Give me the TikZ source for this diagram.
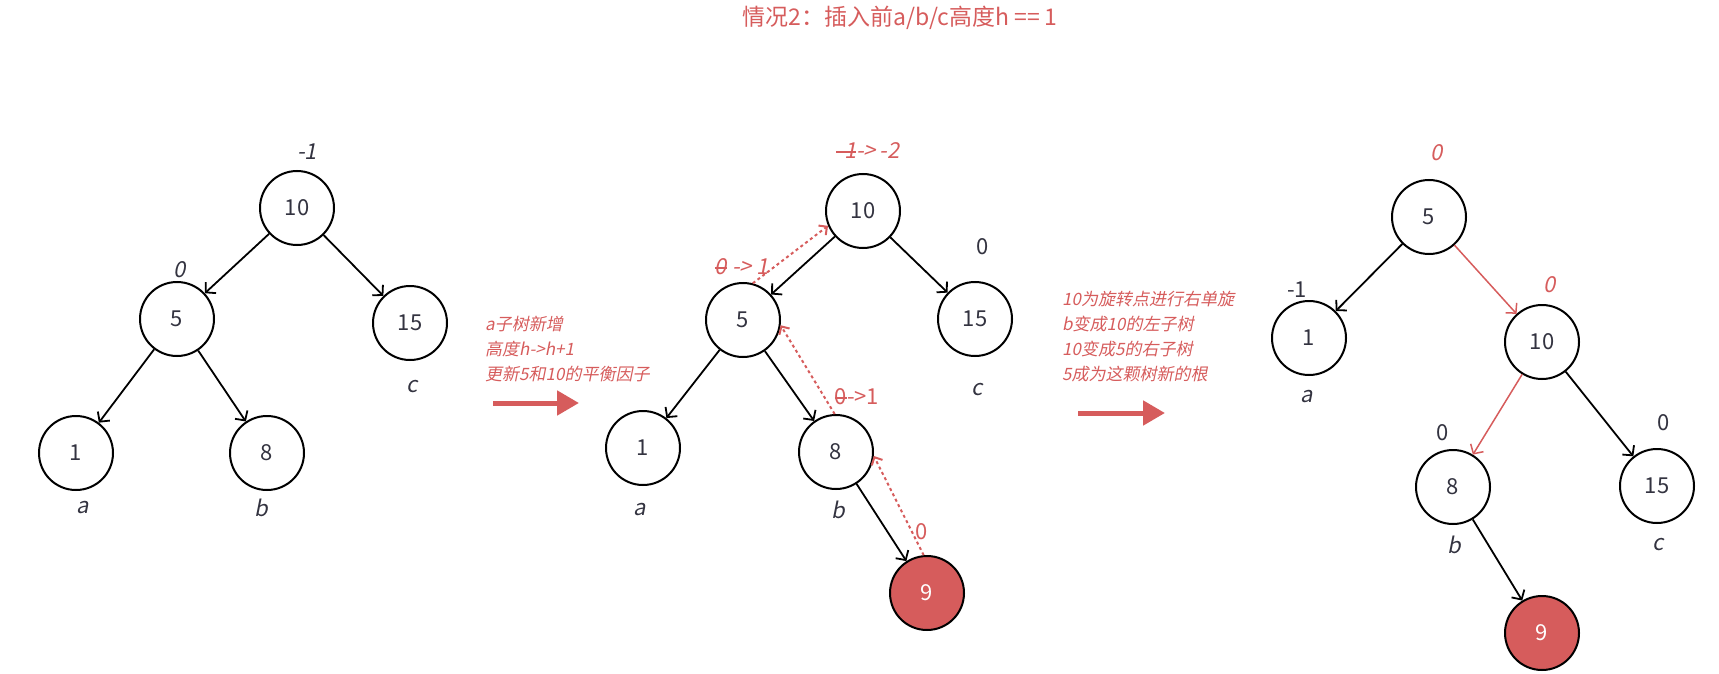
\documentclass[tikz,border=0pt]{standalone}
\usepackage{fontspec}
\setmainfont{Noto Sans CJK SC}
\newfontfamily\itf{Noto Sans CJK SC}[FakeSlant=0.2]
\usetikzlibrary{arrows.meta}
\definecolor{myred}{RGB}{214,92,92}
\definecolor{txt}{RGB}{51,51,64}
\newcommand\stk[1]{\setbox0=\hbox{#1}\rlap{\copy0}\rule[0.28em]{\wd0}{0.07em}}
\begin{document}
\begin{tikzpicture}[x=1pt,y=-1pt,
 tn/.style={circle,draw=black,line width=2pt,minimum size=74pt,inner sep=0pt,text=txt,font=\fontsize{22}{22}\selectfont},
 hot/.style={tn,fill=myred,text=white},
 bf/.style={text=txt,font=\fontsize{22}{22}\selectfont,inner sep=0pt},
 bfi/.style={text=txt,font=\itf\fontsize{22}{22}\selectfont,inner sep=0pt},
 rbf/.style={text=myred,font=\fontsize{22}{22}\selectfont,inner sep=0pt},
 rbfi/.style={text=myred,font=\itf\fontsize{22}{22}\selectfont,inner sep=0pt},
 edge/.style={line width=1.8pt,-{Straight Barb[length=7pt,width=15pt]}},
 redge/.style={draw=myred,line width=1.5pt,-{Straight Barb[length=7pt,width=15pt]}},
 dotarr/.style={draw=myred,line width=2pt,dash pattern=on 3pt off 3pt,-{Straight Barb[length=6pt,width=12pt]}},
 bigarr/.style={draw=myred,line width=5pt,-{Triangle[length=22pt,width=24pt]}},
 note/.style={text=myred,font=\itf\fontsize{17}{25}\selectfont,align=left,anchor=west,inner sep=0pt}
]
\useasboundingbox (0,0) rectangle (1719,674);

% title
\node[text=myred,font=\fontsize{23}{23}\selectfont,inner sep=0pt] (title) at (900,18) {情况2：插入前a/b/c高度h == 1};

% ---------- left tree ----------
\node[tn] (L10) at (297,208) {10};
\node[tn] (L5) at (177,319) {5};
\node[tn] (L15) at (410,323) {15};
\node[tn] (L1) at (76,453) {1};
\node[tn] (L8) at (267,453) {8};
\draw[edge] (L10) -- (L5);
\draw[edge] (L10) -- (L15);
\draw[edge] (L5) -- (L1);
\draw[edge] (L5) -- (L8);
\node[bfi] (Lb10) at (307,152) {-1};
\node[bfi] (Lb5) at (180,270) {0};
\node[bfi] (La) at (83,508) {a};
\node[bfi] (Lb) at (261,508) {b};
\node[bfi] (Lc) at (412,387) {c};

% ---------- arrow 1 ----------
\node[note] (n1) at (485,349) {a子树新增\\高度h->h+1\\更新5和10的平衡因子};
\coordinate (a1s) at (493,403);
\coordinate (a1e) at (579,403);
\draw[bigarr] (a1s) -- (a1e);

% ---------- middle tree ----------
\node[tn] (M10) at (863,211) {10};
\node[tn] (M5) at (743,320) {5};
\node[tn] (M15) at (975,319) {15};
\node[tn] (M1) at (643,448) {1};
\node[tn] (M8) at (836,452) {8};
\node[hot] (M9) at (927,593) {9};
\draw[edge] (M10) -- (M5);
\draw[edge] (M10) -- (M15);
\draw[edge] (M5) -- (M1);
\draw[edge] (M5) -- (M8);
\draw[edge] (M8) -- (M9);
\draw[dotarr] (M5.75) -- (M10.203);
\draw[dotarr] (M8.92) -- (M5.-8);
\draw[dotarr] (M9.95) -- (M8.-6);
\node[rbfi] (Mb10) at (868,151) {\stk{-1}->\,-2};
\node[bf] (Mb15) at (983,247) {0};
\node[rbfi] (Mb5) at (742,267) {\stk{0} -> 1};
\node[rbf] (Mb8) at (857,397) {\stk{0}->1};
\node[rbf] (Mb9) at (922,532) {0};
\node[bfi] (Ma) at (640,510) {a};
\node[bfi] (Mb) at (838,510) {b};
\node[bfi] (Mc) at (977,390) {c};

% ---------- arrow 2 ----------
\node[note] (n2) at (1062,337) {10为旋转点进行右单旋\\b变成10的左子树\\10变成5的右子树\\5成为这颗树新的根};
\coordinate (a2s) at (1078,413);
\coordinate (a2e) at (1165,413);
\draw[bigarr] (a2s) -- (a2e);

% ---------- right tree ----------
\node[tn] (R5) at (1429,217) {5};
\node[tn] (R1) at (1309,338) {1};
\node[tn] (R10) at (1542,342) {10};
\node[tn] (R8) at (1453,487) {8};
\node[tn] (R15) at (1657,486) {15};
\node[hot] (R9) at (1542,633) {9};
\draw[edge] (R5) -- (R1);
\draw[redge] (R5) -- (R10);
\draw[redge] (R10) -- (R8);
\draw[edge] (R10) -- (R15);
\draw[edge] (R8) -- (R9);
\node[rbfi] (Rb5) at (1437,153) {0};
\node[bf] (Rb1) at (1297,290) {-1};
\node[rbfi] (Rb10) at (1550,285) {0};
\node[bf] (Rb8) at (1443,433) {0};
\node[bf] (Rb15) at (1664,423) {0};
\node[bfi] (Ra) at (1307,397) {a};
\node[bfi] (Rb) at (1454,545) {b};
\node[bfi] (Rc) at (1658,545) {c};
\end{tikzpicture}
\end{document}
